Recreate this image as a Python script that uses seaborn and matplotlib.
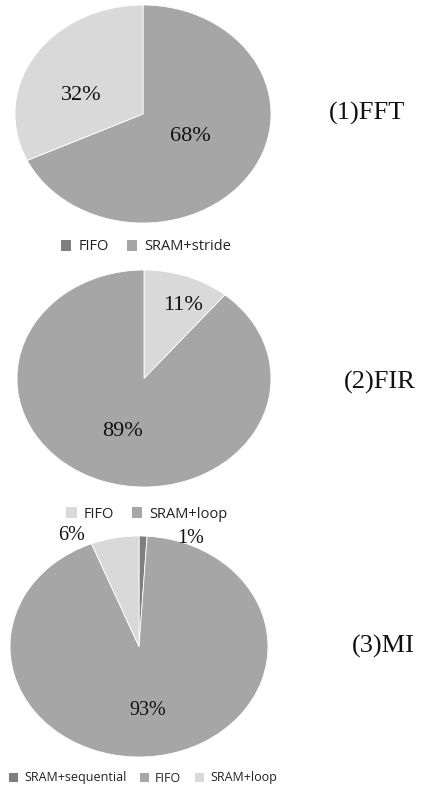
import matplotlib
matplotlib.use("Agg")
import matplotlib.pyplot as plt
import seaborn as sns
from matplotlib.patches import Patch

sns.set_style("white")

# data
fft_values = [68, 32]
fft_legend = ["FIFO", "SRAM+stride"]
fir_values = [11, 89]
fir_legend = ["FIFO", "SRAM+loop"]
mi_values = [1, 93, 6]
mi_legend = ["SRAM+sequential", "FIFO", "SRAM+loop"]
titles = ["(1)FFT", "(2)FIR", "(3)MI"]

# colours
DARK, MID, LIGHT = "#7f7f7f", "#a6a6a6", "#d9d9d9"
W, H = 422, 786

fig = plt.figure(figsize=(W / 100, H / 100), dpi=100)


def box(x0, y0, x1, y1):
    return [x0 / W, 1 - y1 / H, (x1 - x0) / W, (y1 - y0) / H]


def draw_pie(rect, values, colors, label_xy, fs):
    ax = fig.add_axes(rect)
    ax.pie(values, colors=colors, startangle=90, counterclock=False,
           wedgeprops=dict(edgecolor="white", linewidth=0.6))
    ax.set_aspect("auto")
    ax.set_xlim(-1, 1)
    ax.set_ylim(-1, 1)
    for v, (x, y) in zip(values, label_xy):
        ax.text(x, y, f"{v}%", ha="center", va="center", fontsize=fs,
                family="Liberation Serif", color="#111111")
    return ax


draw_pie(box(15, 5, 271, 223), fft_values, [MID, LIGHT],
         [(0.37, -0.21), (-0.48, 0.17)], 16)
draw_pie(box(17, 270, 271, 487), fir_values, [LIGHT, MID],
         [(0.31, 0.67), (-0.17, -0.49)], 16)
draw_pie(box(10, 536, 268, 757), mi_values, [DARK, MID, LIGHT],
         [(0.40, 0.98), (0.07, -0.58), (-0.52, 1.0)], 14.5)

# titles on the right
for t, (x, y) in zip(titles, [(367, 113), (380, 382), (383, 646)]):
    fig.text(x / W, 1 - y / H, t, ha="center", va="center", fontsize=19,
             family="Liberation Serif", color="#111111")


def legend(labels, colors, x, y, fs, gap):
    handles = [Patch(facecolor=c, edgecolor="none") for c in colors]
    fig.legend(handles, labels, loc="center", bbox_to_anchor=(x / W, 1 - y / H),
               ncol=len(labels), frameon=False,
               handlelength=0.7, handleheight=0.7, handletextpad=0.5,
               columnspacing=gap, prop=dict(family="Open Sans", size=fs),
               labelcolor="#222222")


legend(fft_legend, [DARK, MID], 146, 247, 10.5, 1.2)
legend(fir_legend, [LIGHT, MID], 147, 514, 10.5, 1.2)
legend(mi_legend, [DARK, MID, LIGHT], 143, 778, 9, 1.1)

fig.savefig("out.png", dpi=100)
